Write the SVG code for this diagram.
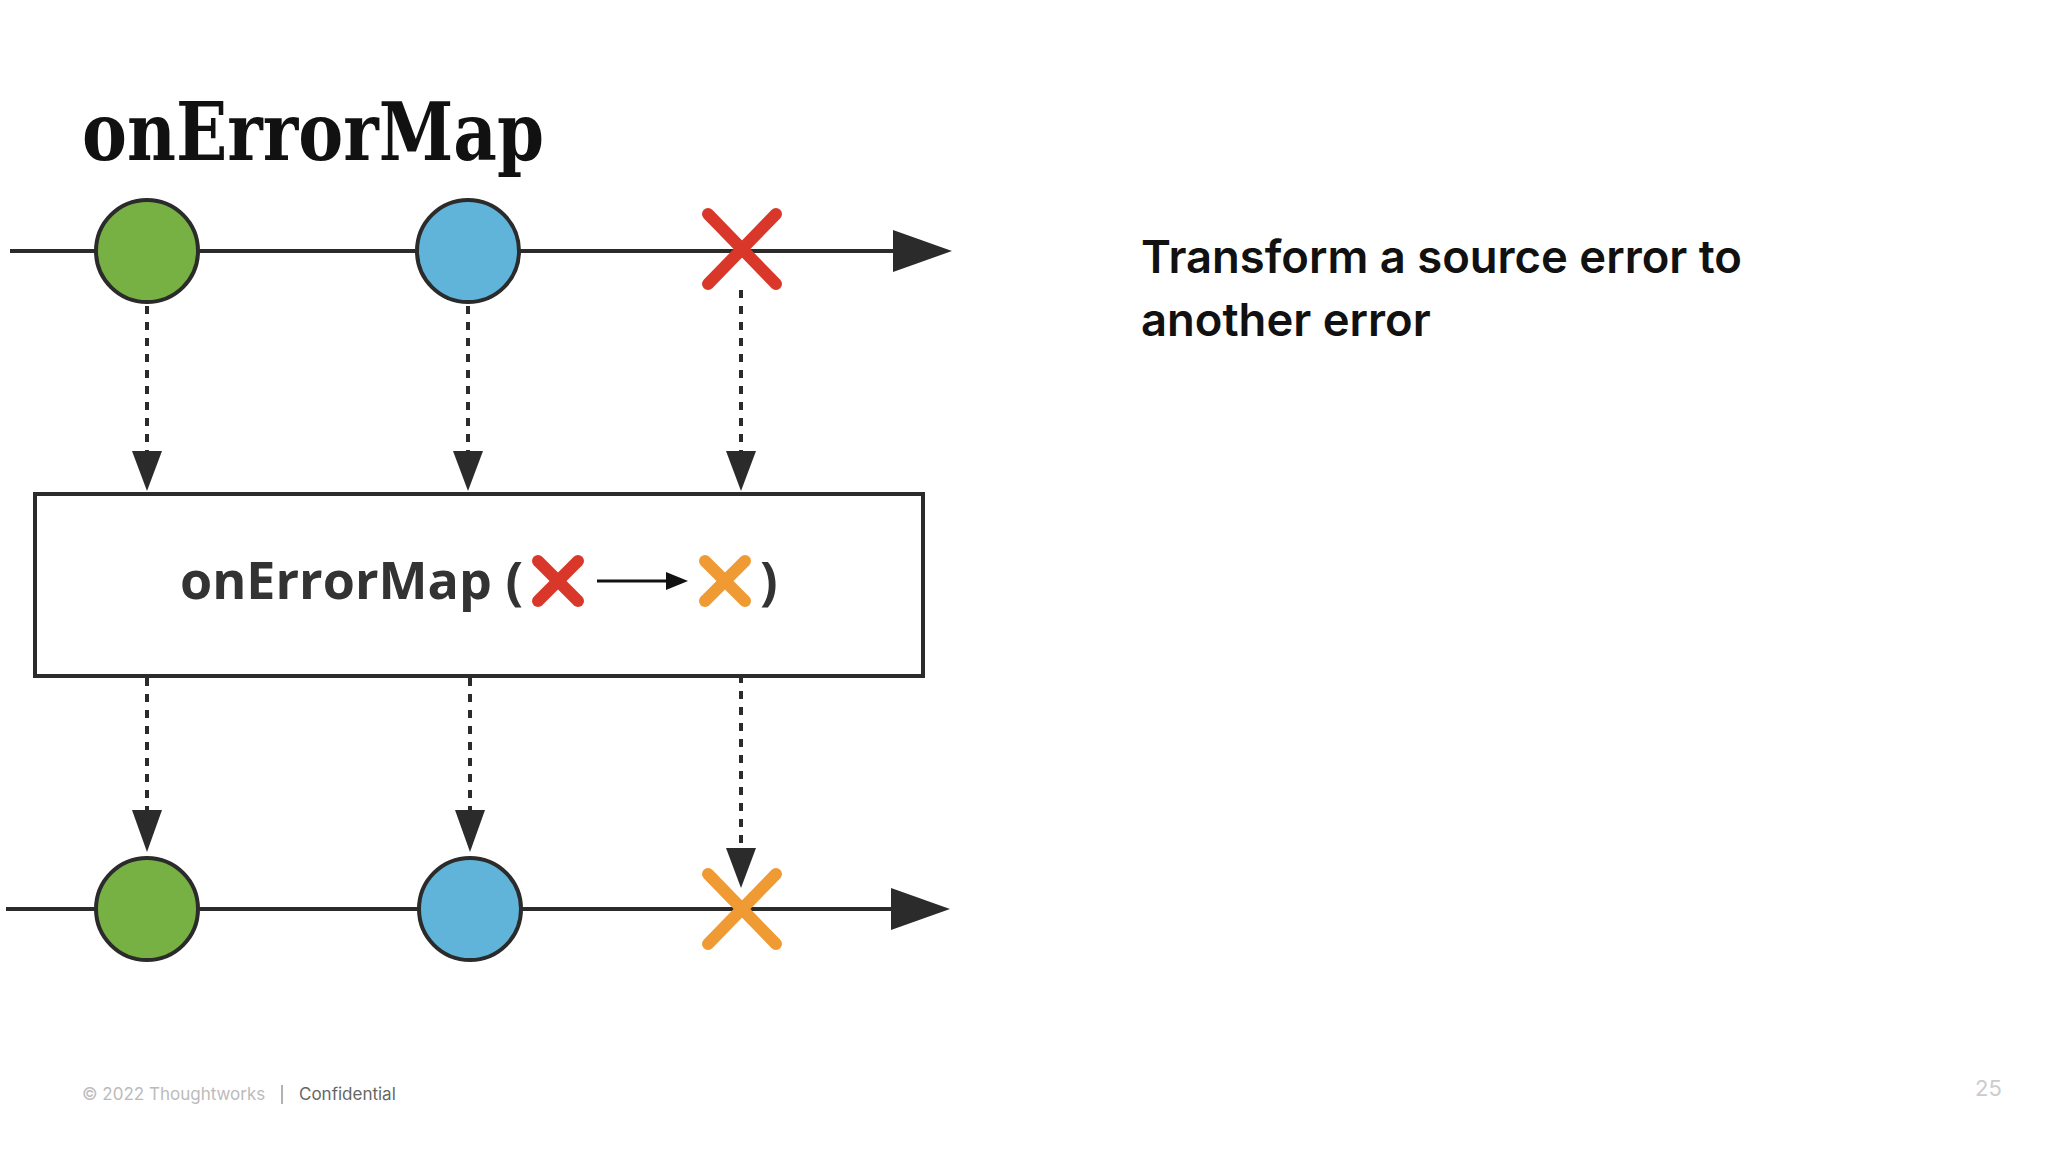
<svg xmlns="http://www.w3.org/2000/svg" width="2048" height="1152" viewBox="0 0 2048 1152">
<style>
.ln{stroke:#2b2b2b;stroke-width:4;fill:none}
.dot{stroke:#2b2b2b;stroke-width:4;stroke-dasharray:8 8;fill:none}
.circ{stroke:#2b2b2b;stroke-width:4}
.xr{stroke:#d9372a;stroke-width:12;stroke-linecap:round}
.xo{stroke:#ef9a32;stroke-width:12;stroke-linecap:round}
.head{fill:#2b2b2b}
</style>
<rect width="2048" height="1152" fill="#fff"/>
<text x="82" y="160" font-family="Roboto Slab, DejaVu Serif, serif" font-weight="bold" font-size="80" textLength="462" lengthAdjust="spacingAndGlyphs" fill="#111">onErrorMap</text>
<g id="connectors">
<line class="ln" x1="10" y1="251" x2="895" y2="251"/>
<polygon class="head" points="893,230 952,251 893,272"/>
<line class="ln" x1="6" y1="909" x2="893" y2="909"/>
<polygon class="head" points="891,888 950,909 891,930"/>
<line class="dot" x1="147" y1="306" x2="147" y2="455"/>
<polygon class="head" points="132,451 162,451 147,491"/>
<line class="dot" x1="468" y1="306" x2="468" y2="455"/>
<polygon class="head" points="453,451 483,451 468,491"/>
<line class="dot" x1="741" y1="290" x2="741" y2="455"/>
<polygon class="head" points="726,451 756,451 741,491"/>
<line class="dot" x1="147" y1="678" x2="147" y2="812"/>
<polygon class="head" points="132,810 162,810 147,852"/>
<line class="dot" x1="470" y1="678" x2="470" y2="812"/>
<polygon class="head" points="455,810 485,810 470,852"/>
<line class="dot" x1="741" y1="675" x2="741" y2="850"/>
<polygon class="head" points="726,848 756,848 741,888"/>
</g>
<g id="src-green"><circle class="circ" cx="147" cy="251" r="51" fill="#77b043"/></g>
<g id="src-blue"><circle class="circ" cx="468" cy="251" r="51" fill="#60b4d9"/></g>
<g id="src-error"><line class="xr" x1="708" y1="214" x2="776" y2="284"/><line class="xr" x1="776" y1="214" x2="708" y2="284"/></g>
<g id="operator">
<rect x="35" y="494" width="888" height="182" fill="#fff" stroke="#2b2b2b" stroke-width="4"/>
<text x="180" y="599" font-family="Open Sans, Liberation Sans, sans-serif" font-weight="bold" font-size="52" fill="#333">onErrorMap (</text>
<line class="xr" stroke-width="9" x1="538" y1="561" x2="578" y2="601"/><line class="xr" stroke-width="9" x1="578" y1="561" x2="538" y2="601"/>
<line stroke="#111" stroke-width="3" x1="597" y1="581" x2="670" y2="581"/>
<polygon fill="#111" points="666,572 688,581 666,590"/>
<line class="xo" stroke-width="9" x1="705" y1="561" x2="745" y2="601"/><line class="xo" stroke-width="9" x1="745" y1="561" x2="705" y2="601"/>
<text x="760" y="599" font-family="Open Sans, Liberation Sans, sans-serif" font-weight="bold" font-size="52" fill="#333">)</text>
</g>
<g id="out-green"><circle class="circ" cx="147" cy="909" r="51" fill="#77b043"/></g>
<g id="out-blue"><circle class="circ" cx="470" cy="909" r="51" fill="#60b4d9"/></g>
<g id="out-error"><line class="xo" x1="708" y1="874" x2="776" y2="944"/><line class="xo" x1="776" y1="874" x2="708" y2="944"/></g>
<g id="desc" font-family="Inter, Liberation Sans, sans-serif" font-weight="600" font-size="45.4" fill="#111">
<text x="1141" y="273">Transform a source error to</text>
<text x="1141" y="336">another error</text>
</g>
<g id="footer" font-family="Inter, Liberation Sans, sans-serif" font-size="17">
<text x="82" y="1100" fill="#bbb">© 2022 Thoughtworks</text>
<line x1="282" y1="1085" x2="282" y2="1104" stroke="#999" stroke-width="1.5"/>
<text x="299" y="1100" fill="#666">Confidential</text>
<text x="1975" y="1096" fill="#ccc" font-size="22">25</text>
</g>
</svg>
